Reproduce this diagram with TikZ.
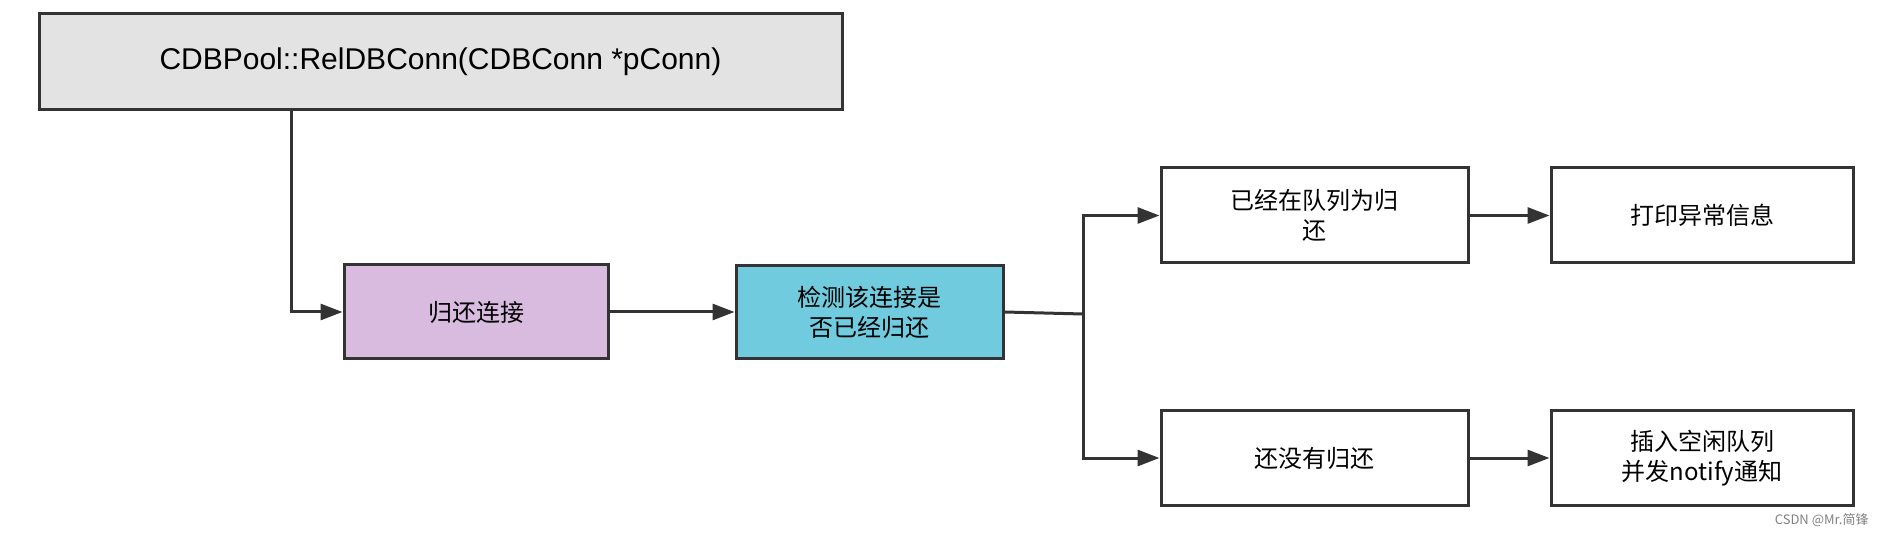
\documentclass[tikz,border=0pt]{standalone}
\usepackage{fontspec}
\setmainfont{Liberation Sans}
\newfontfamily\cjk{Noto Sans CJK SC}
\usetikzlibrary{arrows.meta}
\definecolor{bd}{HTML}{333333}
\begin{document}
\begin{tikzpicture}[x=1pt,y=-1pt,
 box/.style={draw=bd,line width=3pt,minimum width=#1,inner sep=0pt,align=center,font=\cjk\fontsize{24}{30}\selectfont},
 ar/.style={draw=bd,line width=3pt,-{Triangle[length=22pt,width=16pt]}}]
\useasboundingbox (0,0) rectangle (1877,534);
\node[box=803pt,minimum height=96pt,fill=gray!22,font=\fontsize{30}{36}\selectfont] (top) at (440.5,62) {CDBPool::RelDBConn(CDBConn *pConn)};
\node[box=264pt,minimum height=94pt,fill={rgb,255:red,217;green,187;blue,224}] (a) at (476,312) {归还连接};
\node[box=267pt,minimum height=93pt,fill={rgb,255:red,111;green,203;blue,221}] (b) at (869.5,312) {检测该连接是\\否已经归还};
\node[box=307pt,minimum height=95pt,fill=white] (c) at (1314.5,215.5) {已经在队列为归\\还};
\node[box=302pt,minimum height=95pt,fill=white] (d) at (1702,215.5) {打印异常信息};
\node[box=307pt,minimum height=94pt,fill=white] (e) at (1314.5,458) {还没有归还};
\node[box=302pt,minimum height=94pt,fill=white] (f) at (1702,458) {插入空闲队列\\并发notify通知};
\coordinate (br) at (1083,314);
\draw[ar] (291,110) |- (a.west);
\draw[ar] (a.east) -- (b.west);
\draw[draw=bd,line width=3pt] (b.east) -- (br);
\draw[ar] (br) |- (c.west);
\draw[ar] (br) |- (e.west);
\draw[ar] (c.east) -- (d.west);
\draw[ar] (e.east) -- (f.west);
\node[anchor=south east,text=gray,font=\cjk\fontsize{13}{15}\selectfont] (wm) at (1872,530) {CSDN @Mr.简锋};
\end{tikzpicture}
\end{document}
